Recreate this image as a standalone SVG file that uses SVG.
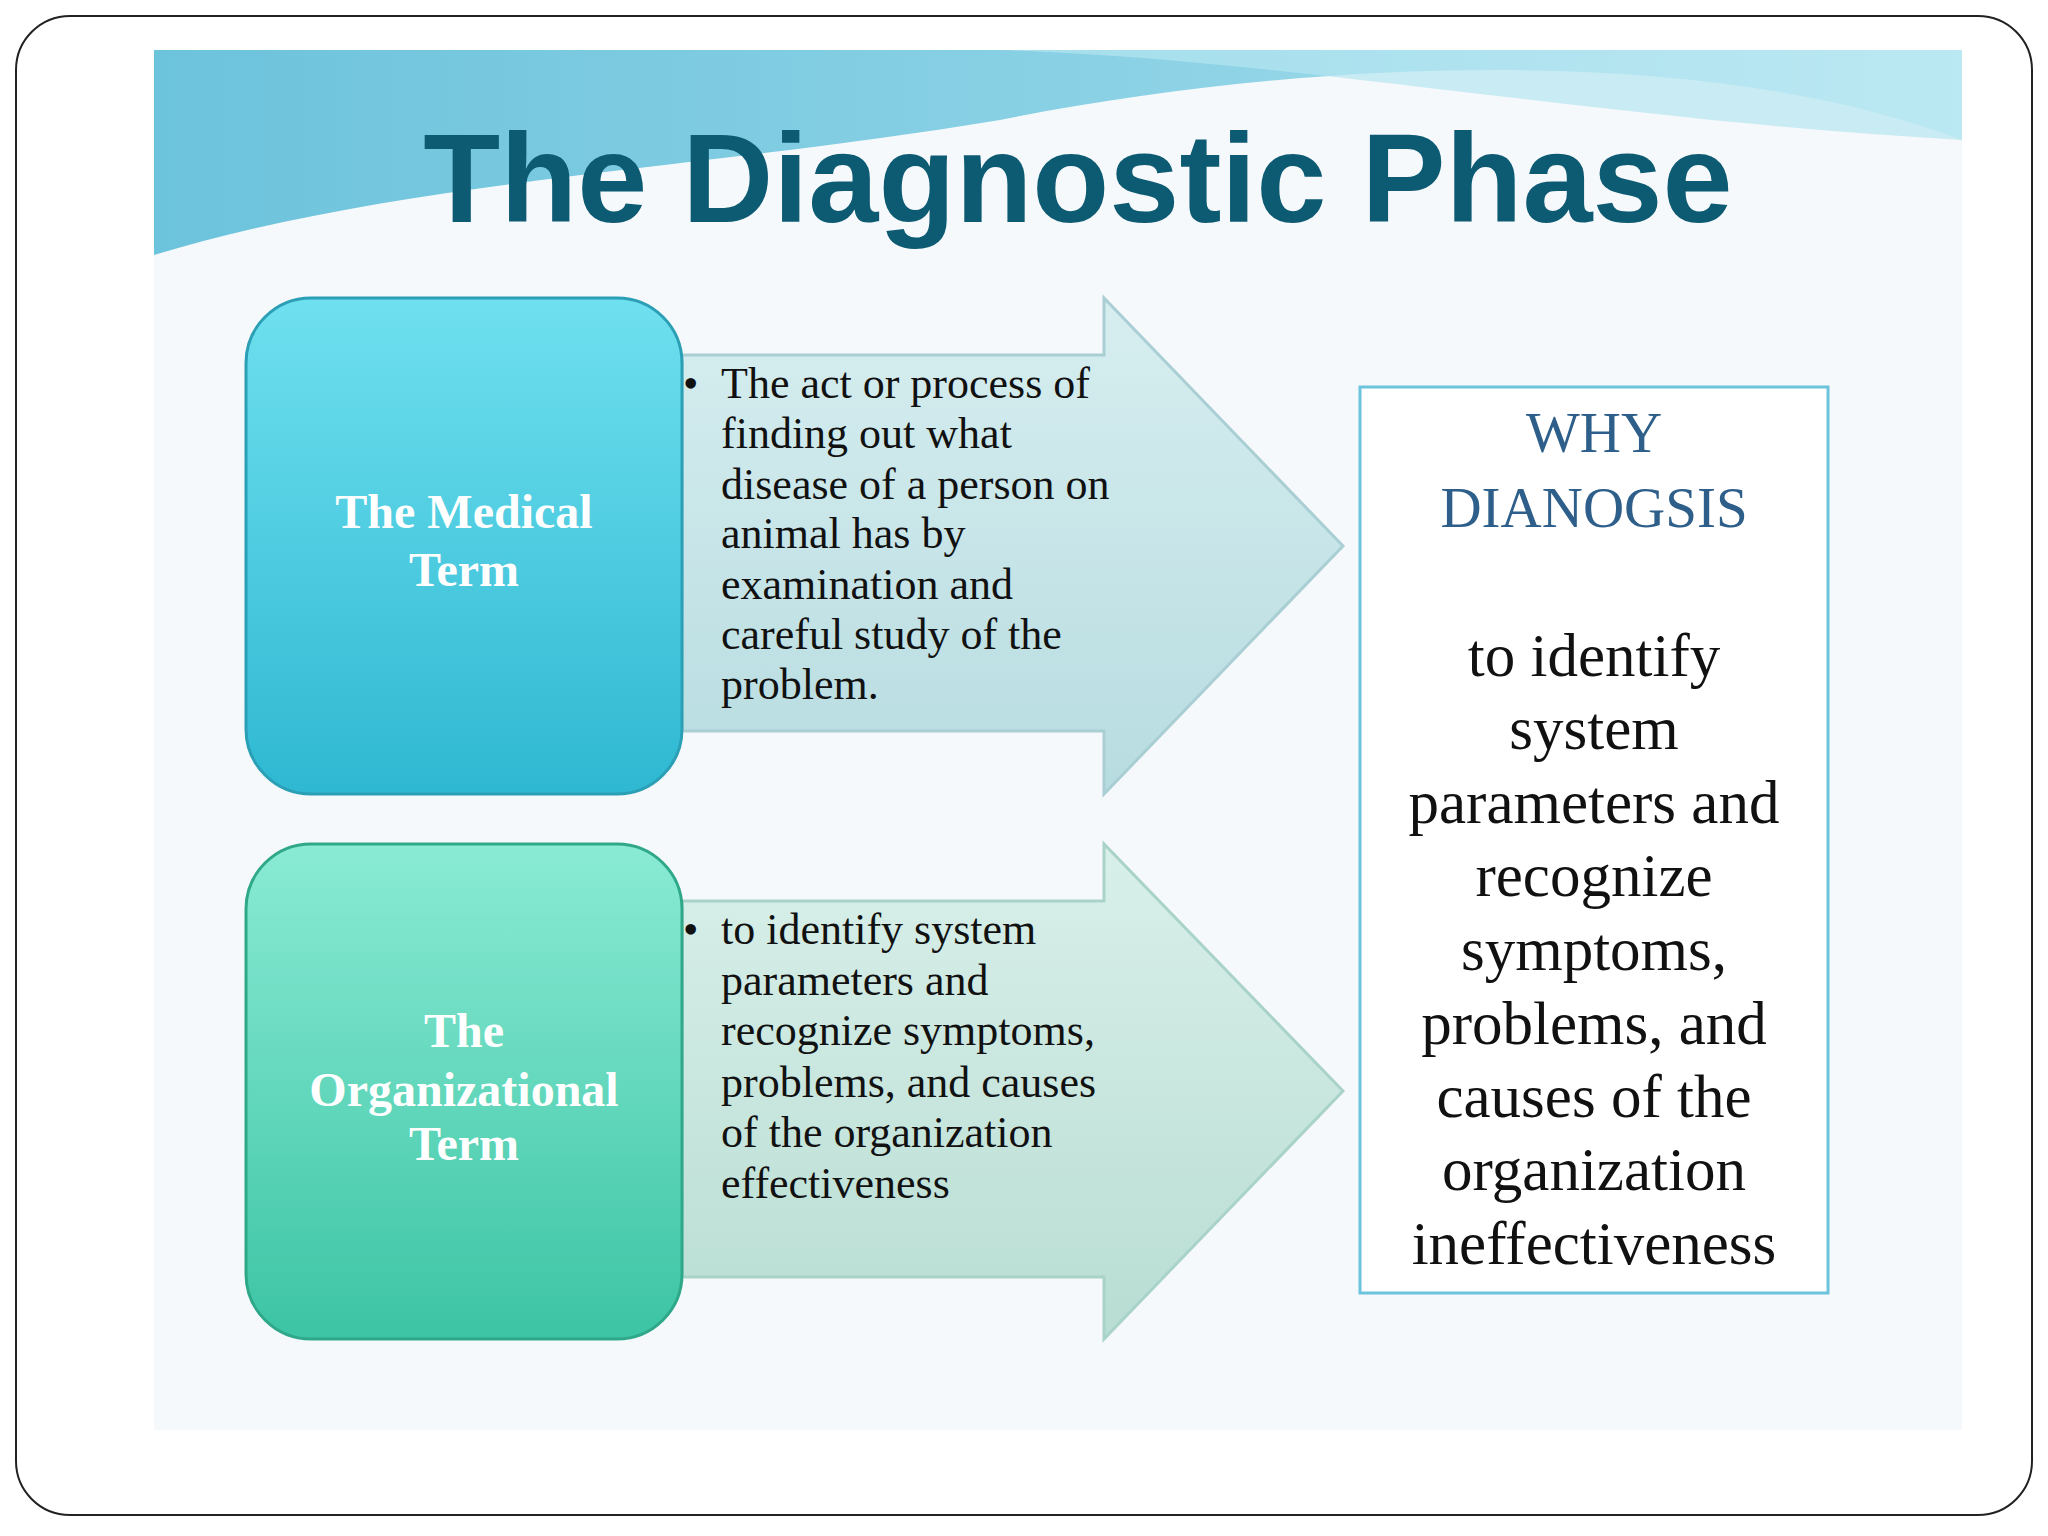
<svg xmlns="http://www.w3.org/2000/svg" width="2048" height="1536" viewBox="0 0 2048 1536">
<defs>
<linearGradient id="hdr" x1="0" y1="0" x2="1" y2="0"><stop offset="0" stop-color="#6cc3dc"/><stop offset="0.6" stop-color="#8fd3e6"/><stop offset="1" stop-color="#c8eef6"/></linearGradient>
<linearGradient id="g1" x1="0" y1="0" x2="0" y2="1"><stop offset="0" stop-color="#6fe0ef"/><stop offset="1" stop-color="#2fb8d2"/></linearGradient>
<linearGradient id="g2" x1="0" y1="0" x2="0" y2="1"><stop offset="0" stop-color="#8aebd4"/><stop offset="1" stop-color="#3cc4a4"/></linearGradient>
<linearGradient id="a1" x1="0" y1="0" x2="0" y2="1"><stop offset="0" stop-color="#d7eef0"/><stop offset="1" stop-color="#b7dce0"/></linearGradient>
<linearGradient id="a2" x1="0" y1="0" x2="0" y2="1"><stop offset="0" stop-color="#d9f0ea"/><stop offset="1" stop-color="#b8ddd3"/></linearGradient>
</defs>
<style>
.bt{font-family:"Liberation Serif",serif;font-weight:bold;font-size:48px;fill:#fff;text-anchor:middle}
.at{font-family:"Liberation Serif",serif;font-size:44px;fill:#111}
.wt{font-family:"Liberation Serif",serif;font-size:61px;fill:#111;text-anchor:middle}
.wh{font-family:"Liberation Serif",serif;font-size:57px;fill:#2e5f8a;text-anchor:middle}
</style>
<rect width="2048" height="1536" fill="#fff"/>
<rect x="16" y="16" width="2016" height="1499" rx="54" fill="none" stroke="#222" stroke-width="2"/>
<rect x="154" y="50" width="1808" height="1380" fill="#f6f9fb"/>
<path d="M154 50 H1962 V140 C1700 40 1300 60 1000 120 C700 170 400 180 154 255 Z" fill="url(#hdr)"/>
<path d="M1000 50 C1300 60 1600 120 1962 140 V50 Z" fill="#b5e6f1" opacity="0.7"/>
<text x="1078" y="222" text-anchor="middle" font-family="Liberation Sans, Arial, sans-serif" font-weight="bold" font-size="126" fill="#0d5a73">The Diagnostic Phase</text>
<g id="connectors">
<g id="arrow1"><path d="M682 355 H1104 V298 L1343 546 L1104 794 V731 H682 Z" fill="url(#a1)" stroke="#a9cfd5" stroke-width="3"/></g>
<g id="arrow2"><path d="M682 901 H1104 V844 L1343 1091 L1104 1339 V1277 H682 Z" fill="url(#a2)" stroke="#a9d3c8" stroke-width="3"/></g>
</g>
<g id="text1">
<text class="at" x="683" y="398">•</text>
<text class="at" x="721" y="398">The act or process of</text>
<text class="at" x="721" y="448">finding out what</text>
<text class="at" x="721" y="499">disease of a person on</text>
<text class="at" x="721" y="548">animal has by</text>
<text class="at" x="721" y="599">examination and</text>
<text class="at" x="721" y="649">careful study of the</text>
<text class="at" x="721" y="699">problem.</text>
</g>
<g id="text2">
<text class="at" x="683" y="944">•</text>
<text class="at" x="721" y="944">to identify system</text>
<text class="at" x="721" y="995">parameters and</text>
<text class="at" x="721" y="1045">recognize symptoms,</text>
<text class="at" x="721" y="1097">problems, and causes</text>
<text class="at" x="721" y="1147">of the organization</text>
<text class="at" x="721" y="1198">effectiveness</text>
</g>
<g id="box1"><rect x="246" y="298" width="436" height="496" rx="65" fill="url(#g1)" stroke="#2a9fb5" stroke-width="3"/>
<text class="bt" x="464" y="528">The  Medical</text><text class="bt" x="464" y="586">Term</text></g>
<g id="box2"><rect x="246" y="844" width="436" height="495" rx="65" fill="url(#g2)" stroke="#2fa88a" stroke-width="3"/>
<text class="bt" x="464" y="1047">The</text><text class="bt" x="464" y="1106">Organizational</text><text class="bt" x="464" y="1160">Term</text></g>
<g id="why"><rect x="1360" y="387" width="468" height="906" fill="#fff" stroke="#6cc3dc" stroke-width="3"/>
<text class="wh" x="1594" y="452">WHY</text><text class="wh" x="1594" y="527">DIANOGSIS</text>
<text class="wt" x="1594" y="676">to identify</text>
<text class="wt" x="1594" y="749">system</text>
<text class="wt" x="1594" y="823">parameters and</text>
<text class="wt" x="1594" y="896">recognize</text>
<text class="wt" x="1594" y="970">symptoms,</text>
<text class="wt" x="1594" y="1044">problems, and</text>
<text class="wt" x="1594" y="1117">causes of the</text>
<text class="wt" x="1594" y="1190">organization</text>
<text class="wt" x="1594" y="1264">ineffectiveness</text>
</g>
</svg>
